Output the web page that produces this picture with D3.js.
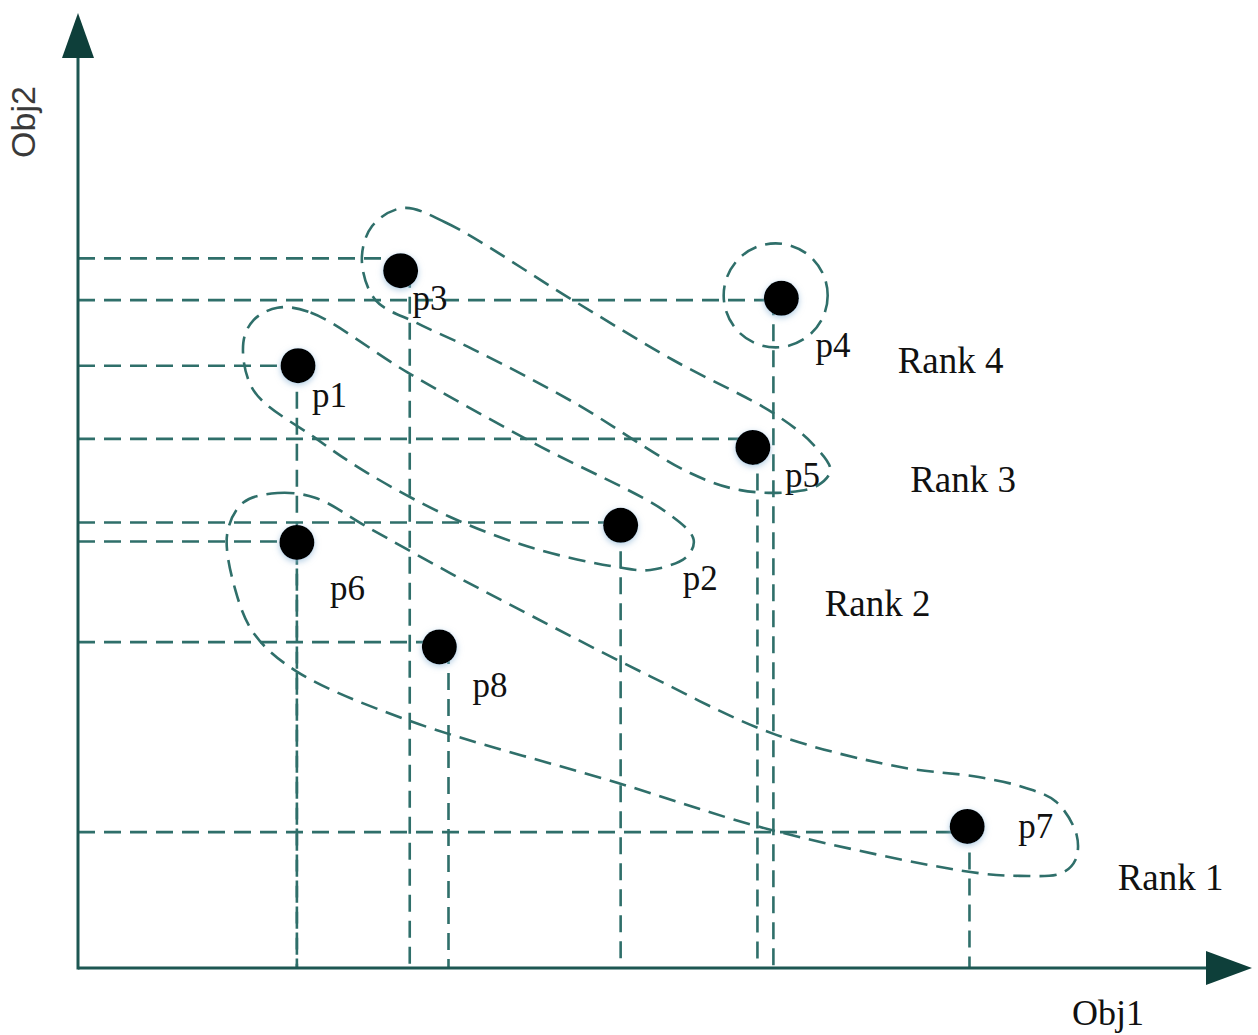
<!DOCTYPE html>
<html>
<head>
<meta charset="utf-8">
<script src="https://cdn.jsdelivr.net/npm/d3@7/dist/d3.min.js"></script>
<style>
  html, body { margin: 0; padding: 0; background: #fff; }
  svg { display: block; }
</style>
</head>
<body>
<svg id="chart"></svg>
<script>
// points: name, obj1, obj2 (dot), projection values, rank
var names = ["p1", "p2", "p3", "p4", "p5", "p6", "p7", "p8"];
var obj1 = [1.93, 4.76, 2.83, 6.17, 5.92, 1.92, 7.80, 3.17];
var obj2 = [6.34, 4.66, 7.34, 7.05, 5.48, 4.48, 1.49, 3.38];
var obj1Proj = [1.92, 4.76, 2.91, 6.10, 5.96, 1.92, 7.82, 3.25];
var obj2Proj = [6.34, 4.69, 7.47, 7.03, 5.57, 4.49, 1.43, 3.43];
var ranks = [2, 2, 3, 4, 3, 1, 1, 1];

// rank front envelopes (obj1, obj2)
var rank1Outline = [[1.45, 4.90], [1.75, 5.00], [2.08, 4.95], [2.54, 4.64], [3.26, 4.16], [3.99, 3.70],
    [5.02, 3.07], [6.09, 2.47], [7.19, 2.12], [7.90, 2.01], [8.30, 1.90], [8.58, 1.75], [8.76, 1.40],
    [8.75, 1.14], [8.63, 1.00], [8.26, 0.97], [7.83, 1.01], [6.09, 1.45], [4.73, 1.95], [2.89, 2.61],
    [1.92, 3.12], [1.55, 3.51], [1.38, 3.98], [1.31, 4.58]];
var rank2Outline = [[1.75, 6.95], [2.04, 6.90], [2.89, 6.27], [3.99, 5.53], [5.17, 4.79], [5.40, 4.51],
    [5.34, 4.33], [5.02, 4.19], [4.73, 4.22], [3.99, 4.42], [3.26, 4.75], [2.54, 5.21], [2.08, 5.58],
    [1.54, 6.08], [1.45, 6.58], [1.54, 6.82]];
var rank3Outline = [[2.85, 8.00], [3.22, 7.85], [4.34, 7.03], [5.22, 6.40], [6.10, 5.84], [6.45, 5.51],
    [6.60, 5.24], [6.49, 5.08], [6.25, 5.01], [5.81, 5.03], [5.37, 5.21], [4.34, 5.96], [3.47, 6.51],
    [2.97, 6.79], [2.61, 7.03], [2.49, 7.45], [2.58, 7.81]];
var rank4Center = [6.12, 7.08];

var rankNames = ["Rank 1", "Rank 2", "Rank 3", "Rank 4"];
var rankLabelX = [9.12, 6.55, 7.30, 7.19];
var rankLabelY = [0.82, 3.71, 5.01, 6.26];

var width = 1258, height = 1035;
var lineColor = "#2f6f6a", axisColor = "#1d5752", arrowColor = "#0e3f3a";

var svg = d3.select("#chart").attr("width", width).attr("height", height);

var x = d3.scaleLinear().domain([0, 10]).range([78, 1218]);
var y = d3.scaleLinear().domain([0, 10]).range([968, 18]);

var defs = svg.append("defs");
var glow = defs.append("filter").attr("id", "glow")
    .attr("x", "-50%").attr("y", "-50%").attr("width", "200%").attr("height", "200%");
glow.append("feDropShadow")
    .attr("dx", 0).attr("dy", 2).attr("stdDeviation", 3)
    .attr("flood-color", "#8fb6d6").attr("flood-opacity", 0.7);

var pts = names.map(function (n, i) {
    return {name: n, o1: obj1[i], o2: obj2[i], p1: obj1Proj[i], p2: obj2Proj[i], rank: ranks[i]};
});

var dash = "17,9";

// projection lines
var proj = svg.append("g").attr("class", "proj")
    .attr("stroke", lineColor).attr("stroke-width", 2.6)
    .attr("stroke-dasharray", dash).attr("fill", "none");

proj.selectAll("line.h").data(pts).enter().append("line")
    .attr("class", "h")
    .attr("x1", x(0)).attr("x2", function (d) { return x(d.o1); })
    .attr("y1", function (d) { return y(d.p2); }).attr("y2", function (d) { return y(d.p2); });

proj.selectAll("line.v").data(pts).enter().append("line")
    .attr("class", "v")
    .attr("x1", function (d) { return x(d.p1); }).attr("x2", function (d) { return x(d.p1); })
    .attr("y1", function (d) { return y(d.o2); }).attr("y2", y(0));

// rank envelopes
var outline = d3.line()
    .x(function (d) { return x(d[0]); })
    .y(function (d) { return y(d[1]); })
    .curve(d3.curveCatmullRomClosed.alpha(0.5));

var loops = svg.append("g").attr("class", "loops")
    .attr("stroke", lineColor).attr("stroke-width", 2.6)
    .attr("stroke-dasharray", dash).attr("fill", "none");

loops.selectAll("path").data([rank1Outline, rank2Outline, rank3Outline]).enter()
    .append("path").attr("d", outline);

loops.append("circle")
    .attr("cx", x(rank4Center[0])).attr("cy", y(rank4Center[1]))
    .attr("r", 52);

// axes
var axes = svg.append("g").attr("class", "axes");
axes.append("line")
    .attr("x1", x(0)).attr("x2", 1210).attr("y1", y(0)).attr("y2", y(0))
    .attr("stroke", axisColor).attr("stroke-width", 3);
axes.append("line")
    .attr("x1", x(0)).attr("x2", x(0)).attr("y1", y(0) + 1.5).attr("y2", 55)
    .attr("stroke", axisColor).attr("stroke-width", 3);
axes.append("path")
    .attr("d", "M1252," + y(0) + "L1206," + (y(0) - 17) + "L1206," + (y(0) + 17) + "Z")
    .attr("fill", arrowColor);
axes.append("path")
    .attr("d", "M" + x(0) + ",13L" + (x(0) - 16) + ",58L" + (x(0) + 16) + ",58Z")
    .attr("fill", arrowColor);

// dots
svg.append("g").attr("class", "dots")
    .selectAll("circle").data(pts).enter().append("circle")
    .attr("cx", function (d) { return x(d.o1); })
    .attr("cy", function (d) { return y(d.o2); })
    .attr("r", 17.5)
    .attr("fill", "#000")
    .attr("filter", "url(#glow)");

// point labels
var labelOffset = {
    p1: [14, 41], p2: [62, 65], p3: [12, 39], p4: [34, 59],
    p5: [32, 40], p6: [33, 58], p7: [51, 12], p8: [33, 50]
};
svg.append("g").attr("class", "labels")
    .selectAll("text").data(pts).enter().append("text")
    .attr("x", function (d) { return x(d.o1) + labelOffset[d.name][0]; })
    .attr("y", function (d) { return y(d.o2) + labelOffset[d.name][1]; })
    .attr("font-family", "'Liberation Serif', 'Times New Roman', serif")
    .attr("font-size", 35)
    .attr("fill", "#111")
    .text(function (d) { return d.name; });

svg.append("g").attr("class", "rank-labels")
    .selectAll("text").data(rankNames).enter().append("text")
    .attr("x", function (d, i) { return x(rankLabelX[i]); })
    .attr("y", function (d, i) { return y(rankLabelY[i]); })
    .attr("font-family", "'Liberation Serif', 'Times New Roman', serif")
    .attr("font-size", 37)
    .attr("fill", "#111")
    .text(function (d) { return d; });

// axis titles
svg.append("text")
    .attr("x", 1072).attr("y", 1025)
    .attr("font-family", "'Liberation Serif', 'Times New Roman', serif")
    .attr("font-size", 36)
    .attr("fill", "#111")
    .text("Obj1");

svg.append("text")
    .attr("transform", "translate(35,122) rotate(-90)")
    .attr("text-anchor", "middle")
    .attr("font-family", "'Liberation Sans', Arial, sans-serif")
    .attr("font-size", 34)
    .attr("fill", "#3a3a3a")
    .text("Obj2");
</script>
</body>
</html>
